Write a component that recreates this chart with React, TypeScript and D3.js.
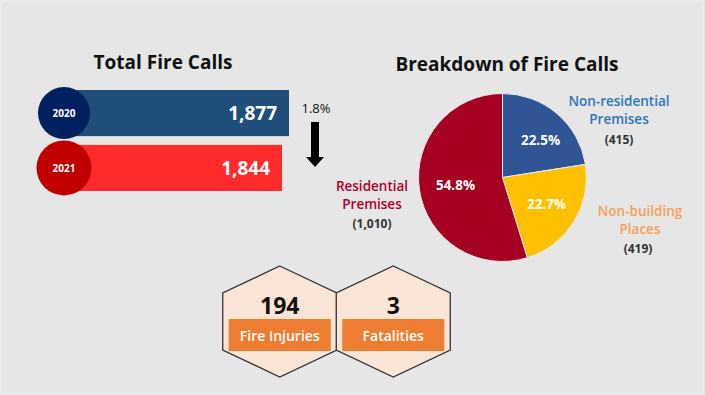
import React from "react";
import * as d3 from "d3";

const years = ["2020", "2021"];
const totalCalls = [1877, 1844];
const changeLabel = "1.8%";

const pieCategories = ["Non-residential Premises", "Non-building Places", "Residential Premises"];
const pieValues = [415, 419, 1010];
const piePercents = ["22.5%", "22.7%", "54.8%"];

const statValues = ["194", "3"];
const statLabels = ["Fire Injuries", "Fatalities"];

const W = 705;
const H = 395;
const FONT = "'Open Sans', 'Noto Sans', sans-serif";

export default function App() {
  // bars
  const x = d3.scaleLinear().domain([1844, 1877]).range([282, 289]);
  const y = d3.scaleBand().domain(years).range([90, 191]).paddingInner(0.16);
  const barColors = ["#1f4e79", "#ff2a2a"];
  const circleColors = ["#002060", "#c00000"];

  // pie
  const cx = 502.5, cy = 177.5, R = 84;
  const pie = d3.pie<number>().sort(null).value((d) => d)(pieValues);
  const arc = d3.arc<d3.PieArcDatum<number>>().innerRadius(0).outerRadius(R);
  const pieColors = ["#2f5597", "#ffc000", "#a50021"];
  const labelPos = [
    [38, -38],
    [44, 26],
    [-47, 7],
  ];

  const hexCx = d3.scaleBand().domain(statLabels).range([223, 450]).padding(0);
  const hexPts = (c: number, m: number) => {
    const hw = 57, hh = 55.5, s = 28.5;
    return [
      [c, m - hh],
      [c + hw, m - s],
      [c + hw, m + s],
      [c, m + hh],
      [c - hw, m + s],
      [c - hw, m - s],
    ]
      .map((p) => p.join(","))
      .join(" ");
  };

  return (
    <svg
      width={W}
      height={H}
      style={{ position: "absolute", left: 0, top: 0, fontFamily: FONT }}
    >
      <rect x={0} y={0} width={W} height={H} fill="#e6e6e6" />
      <rect x={1} y={1} width={W - 3} height={H - 3} fill="none" stroke="#efefef" strokeWidth={1} />

      {/* Left title */}
      <text x={163} y={62} textAnchor="middle" dominantBaseline="central" fontWeight={700} fontSize={19} fill="#111">
        Total Fire Calls
      </text>

      {years.map((yr, i) => {
        const by = y(yr)!;
        const bh = y.bandwidth();
        const cyy = by + bh / 2;
        return (
          <g key={yr}>
            <rect x={64} y={by} width={x(totalCalls[i]) - 64} height={bh} fill={barColors[i]} />
            <circle cx={64} cy={cyy} r={i === 0 ? 26 : 27.5} fill={circleColors[i]} />
            <text x={64} y={cyy} textAnchor="middle" dominantBaseline="central" fill="#fff" fontWeight={700} fontSize={10}>
              {yr}
            </text>
            <text x={x(totalCalls[i]) - 12} y={cyy} textAnchor="end" dominantBaseline="central" fill="#fff" fontWeight={700} fontSize={19}>
              {d3.format(",")(totalCalls[i])}
            </text>
          </g>
        );
      })}

      <text x={316} y={108} textAnchor="middle" dominantBaseline="central" fontSize={13} fill="#111">
        {changeLabel}
      </text>
      <polygon points="311,122 319,122 319,157 324,157 315,167 306,157 311,157" fill="#000" />

      {/* Right title */}
      <text x={507} y={64} textAnchor="middle" dominantBaseline="central" fontWeight={700} fontSize={19} fill="#111">
        Breakdown of Fire Calls
      </text>

      <g transform={`translate(${cx},${cy})`}>
        {pie.map((p, i) => (
          <path key={i} d={arc(p)!} fill={pieColors[i]} stroke="#eaeaea" strokeWidth={1} />
        ))}
        {pie.map((p, i) => (
          <text key={"t" + i} x={labelPos[i][0]} y={labelPos[i][1]} textAnchor="middle" dominantBaseline="central" fill="#fff" fontWeight={700} fontSize={13.5}>
            {piePercents[i]}
          </text>
        ))}
      </g>

      {/* outside labels */}
      <g fontWeight={600} fontSize={13.5} textAnchor="middle">
        <text x={619} y={101} dominantBaseline="central" fill="#2e75b6">Non-residential</text>
        <text x={619} y={119} dominantBaseline="central" fill="#2e75b6">Premises</text>
        <text x={619} y={139} dominantBaseline="central" fill="#333" fontSize={12} fontWeight={700}>({d3.format(",")(pieValues[0])})</text>

        <text x={640} y={211} dominantBaseline="central" fill="#f4a05a">Non-building</text>
        <text x={640} y={229} dominantBaseline="central" fill="#f4a05a">Places</text>
        <text x={638} y={248} dominantBaseline="central" fill="#333" fontSize={12} fontWeight={700}>({d3.format(",")(pieValues[1])})</text>

        <text x={372} y={186} dominantBaseline="central" fill="#b0002a">Residential</text>
        <text x={372} y={204} dominantBaseline="central" fill="#b0002a">Premises</text>
        <text x={372} y={223} dominantBaseline="central" fill="#333" fontSize={12} fontWeight={700}>({d3.format(",")(pieValues[2])})</text>
      </g>

      {/* hexagons */}
      {statLabels.map((lab, i) => {
        const c = hexCx(lab)! + hexCx.bandwidth() / 2;
        const m = 321.5;
        return (
          <g key={lab}>
            <polygon points={hexPts(c, m)} fill="#fbe5d6" stroke="#333" strokeWidth={1.3} />
            <text x={c} y={305} textAnchor="middle" dominantBaseline="central" fontWeight={700} fontSize={23} fill="#111">
              {statValues[i]}
            </text>
            <rect x={c - 51} y={319} width={102} height={32} fill="#ed7d31" />
            <text x={c} y={335} textAnchor="middle" dominantBaseline="central" fontWeight={600} fontSize={14} fill="#fff">
              {lab}
            </text>
          </g>
        );
      })}
    </svg>
  );
}
